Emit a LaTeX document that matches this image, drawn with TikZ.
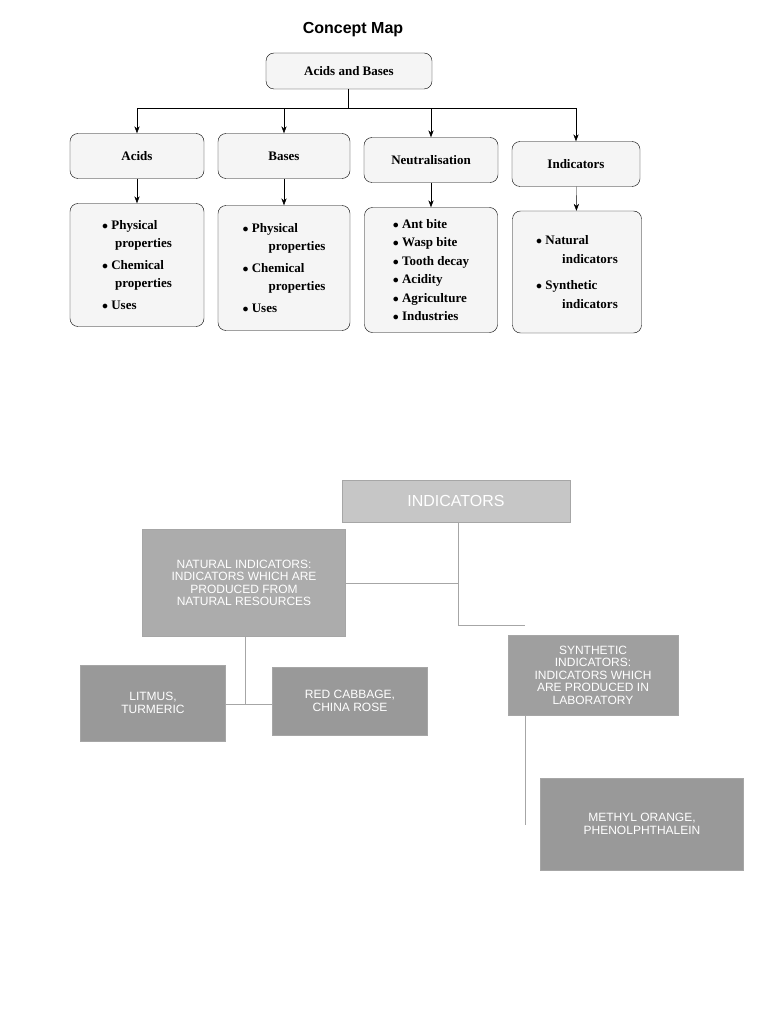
\documentclass[tikz,border=0pt]{standalone}
\usepackage{fontspec}
\setmainfont{Liberation Serif}
\newfontfamily\capsfont{Liberation Sans}
\usetikzlibrary{arrows.meta}
\begin{document}
\begin{tikzpicture}[
    x=1pt,y=-1pt,
    topbox/.style={draw, rounded corners=8pt, fill=gray!8, font=\fontsize{13}{15}\selectfont\bfseries},
    listbox/.style={draw, rounded corners=8pt, fill=gray!8, font=\fontsize{13}{18.5}\selectfont\bfseries, align=left},
    flat/.style={draw=gray!70, thick, text=white, font=\capsfont\fontsize{12}{12.5}\selectfont, align=center},
    arr/.style={-{Stealth[length=7pt]}},
    link/.style={gray!70}
    ]
    \useasboundingbox (0,0) rectangle (768,1024);
    % concept map
    \node[font=\capsfont\bfseries\fontsize{16}{18}\selectfont] (title) at (353,30) {Concept Map};
    \node[topbox, minimum width=166, minimum height=36] (ab) at (349,71) {Acids and Bases};
    \node[topbox, minimum width=134, minimum height=45] (acids) at (137,156) {Acids};
    \node[topbox, minimum width=132, minimum height=45] (bases) at (284,156) {Bases};
    \node[topbox, minimum width=134, minimum height=45] (neut) at (431,160) {Neutralisation};
    \node[topbox, minimum width=128, minimum height=45] (ind) at (576,164) {Indicators};
    \coordinate (split) at (348,108);
    \draw (ab.south -| split) -- (split);
    \foreach \b in {acids,bases,neut,ind}
      \draw[arr] (split) -| (\b.north);
    \node[listbox, minimum width=134, minimum height=123] (acidl) at (137,265)
      {$\bullet$ Physical\\ \quad properties\\[3pt] $\bullet$ Chemical\\ \quad properties\\[3pt] $\bullet$ Uses};
    \node[listbox, minimum width=132, minimum height=125] (basel) at (284,268)
      {$\bullet$ Physical\\ \quad\quad properties\\[3pt] $\bullet$ Chemical\\ \quad\quad properties\\[3pt] $\bullet$ Uses};
    \node[listbox, minimum width=133, minimum height=125] (neutl) at (431,270)
      {$\bullet$ Ant bite\\ $\bullet$ Wasp bite\\ $\bullet$ Tooth decay\\ $\bullet$ Acidity\\ $\bullet$ Agriculture\\ $\bullet$ Industries};
    \node[listbox, minimum width=129, minimum height=122] (indl) at (577,272)
      {$\bullet$ Natural\\ \quad\quad indicators\\[8pt] $\bullet$ Synthetic\\ \quad\quad indicators};
    \draw[arr] (acids) -- (acidl);
    \draw[arr] (bases) -- (basel);
    \draw[arr] (neut) -- (neutl);
    \draw[arr] (ind) -- (indl);
    % indicators chart
    \node[flat, fill=gray!45, minimum width=228, minimum height=42, font=\capsfont\fontsize{16}{18}\selectfont] (root) at (456,501) {INDICATORS};
    \node[flat, fill=gray!65, minimum width=203, minimum height=107] (nat) at (244,583)
      {NATURAL INDICATORS:\\ INDICATORS WHICH ARE\\ PRODUCED FROM\\ NATURAL RESOURCES};
    \node[flat, fill=gray!75, minimum width=170, minimum height=80] (syn) at (593,675)
      {SYNTHETIC\\ INDICATORS:\\ INDICATORS WHICH\\ ARE PRODUCED IN\\ LABORATORY};
    \node[flat, fill=gray!80, minimum width=145, minimum height=76] (lit) at (153,703) {LITMUS,\\ TURMERIC};
    \node[flat, fill=gray!80, minimum width=155, minimum height=68] (cab) at (350,701) {RED CABBAGE,\\ CHINA ROSE};
    \node[flat, fill=gray!80, minimum width=203, minimum height=92] (meth) at (642,824) {METHYL ORANGE,\\ PHENOLPHTHALEIN};
    \coordinate (rj) at (458,625);
    \coordinate (rk) at (525,625);
    \coordinate (nj) at (245,704);
    \coordinate (sj) at (525,825);
    \draw[link] (root.south -| rj) -- (rj) -- (rk);
    \draw[link] (nat.east) -- (nat.east -| rj);
    \draw[link] (nat.south -| nj) -- (nj);
    \draw[link] (lit.east |- nj) -- (cab.west |- nj);
    \draw[link] (syn.south -| sj) -- (sj);
  \end{tikzpicture}
\end{document}
